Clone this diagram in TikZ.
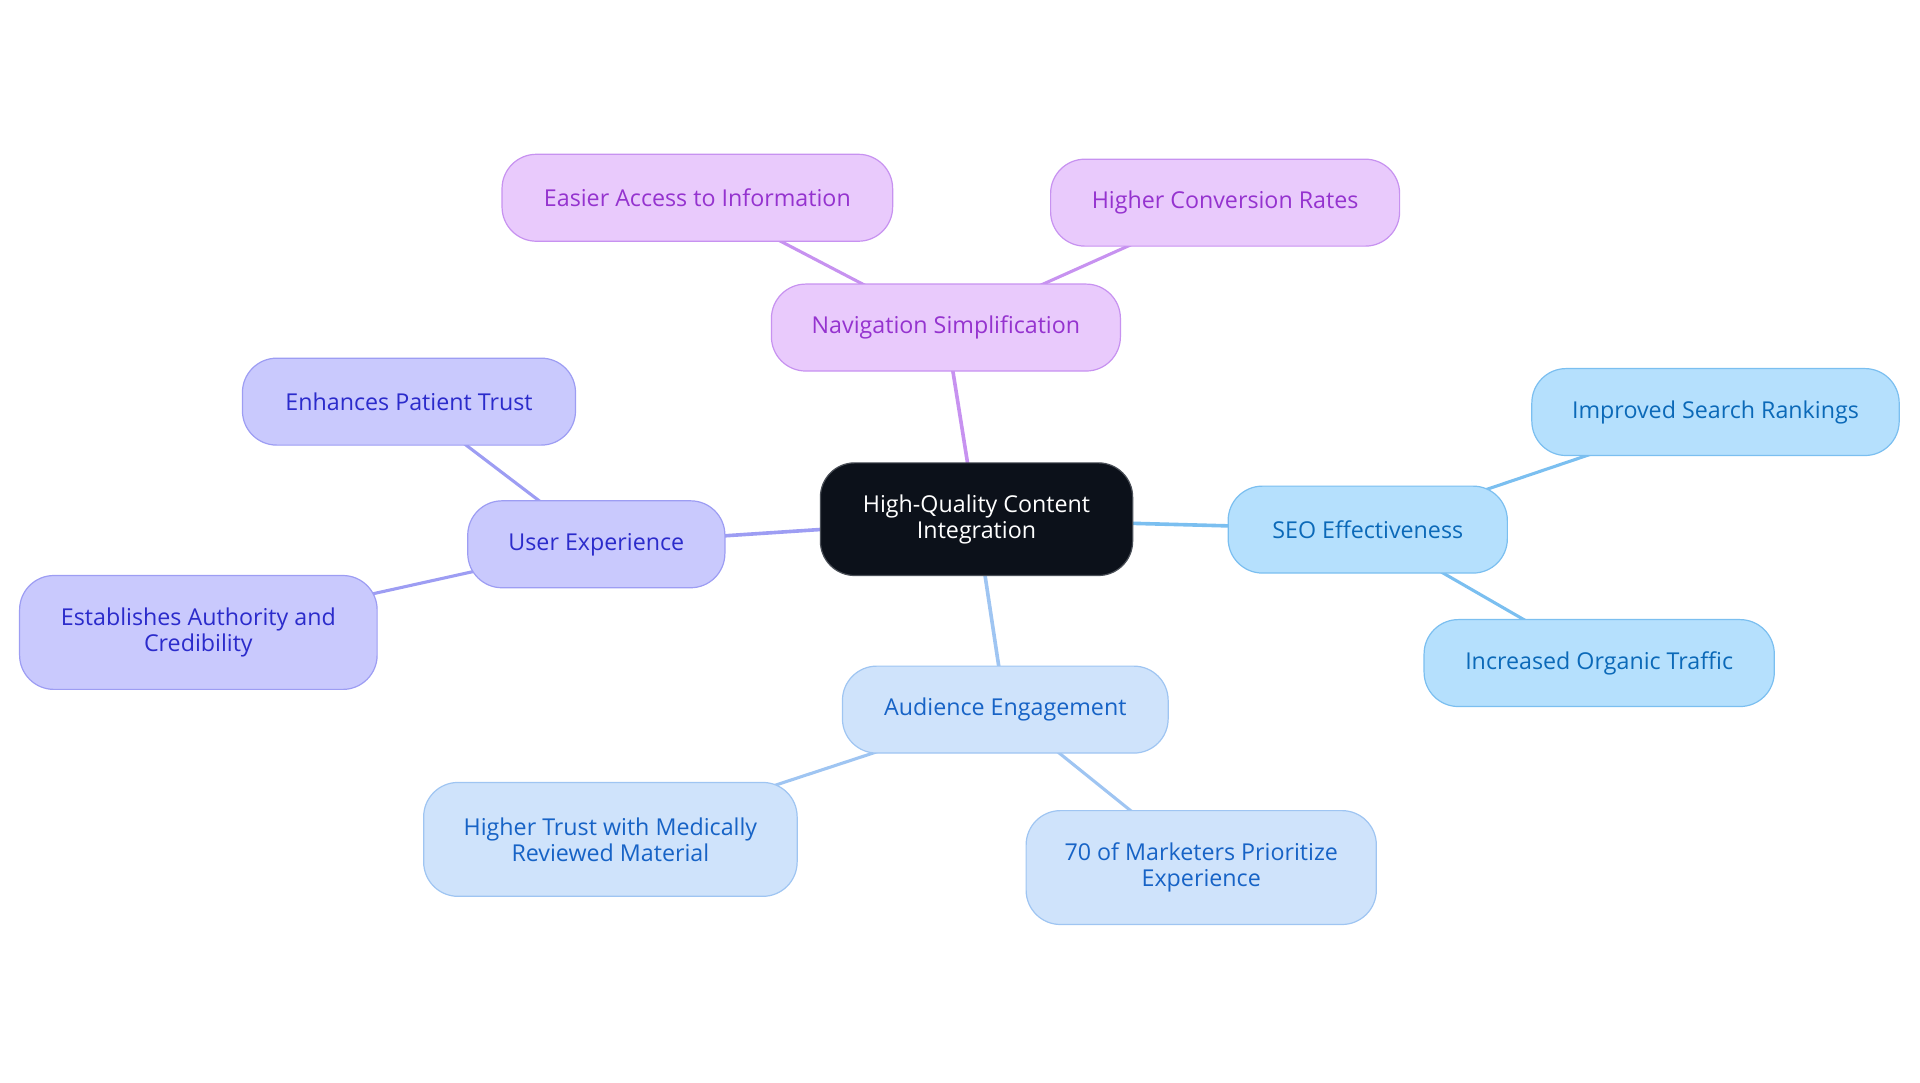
\documentclass[tikz,border=0pt]{standalone}
\usepackage{fontspec}
\setmainfont{Open Sans}
\pgfdeclarelayer{background}
\pgfsetlayers{background,main}
\definecolor{cfill}{HTML}{0C111A}
\definecolor{cborder}{HTML}{4A4F57}
\definecolor{navfill}{HTML}{E9CAFC}
\definecolor{navline}{HTML}{C792F0}
\definecolor{navtext}{HTML}{9533CF}
\definecolor{uxfill}{HTML}{C9C9FD}
\definecolor{uxline}{HTML}{9D9DF3}
\definecolor{uxtext}{HTML}{2B2BCB}
\definecolor{seofill}{HTML}{B5E0FD}
\definecolor{seoline}{HTML}{7BBFF0}
\definecolor{seotext}{HTML}{0B69B8}
\definecolor{audfill}{HTML}{CFE3FB}
\definecolor{audline}{HTML}{9FC5F2}
\definecolor{audtext}{HTML}{1763C6}
\tikzset{
  box/.style={rounded corners=0.7cm, line width=0.7pt, inner sep=0pt, align=center,
    font=\fontsize{13.5}{15.2}\selectfont},
  centerbox/.style={box, fill=cfill, draw=cborder, text=white},
  navbox/.style={box, fill=navfill, draw=navline, text=navtext},
  uxbox/.style={box, fill=uxfill, draw=uxline, text=uxtext},
  seobox/.style={box, fill=seofill, draw=seoline, text=seotext},
  audbox/.style={box, fill=audfill, draw=audline, text=audtext},
  mainedge/.style={line width=2.1pt},
  subedge/.style={line width=1.8pt},
}
\begin{document}
\begin{tikzpicture}[x=0.025cm, y=-0.025cm]
\useasboundingbox (0,0) rectangle (1568,884.4);
\node[centerbox, minimum width=255*0.025cm, minimum height=92*0.025cm] (c) at (797.5,424) {High-Quality Content\\Integration};
\node[navbox, minimum width=285*0.025cm, minimum height=71*0.025cm] (nav) at (772.5,267.5) {Navigation Simplification};
\node[navbox, minimum width=319*0.025cm, minimum height=71*0.025cm] (eas) at (569.5,161.5) {Easier Access to Information};
\node[navbox, minimum width=285*0.025cm, minimum height=71*0.025cm] (hcr) at (1000.5,165.5) {Higher Conversion Rates};
\node[uxbox, minimum width=210*0.025cm, minimum height=71*0.025cm] (ux) at (487,444.5) {User Experience};
\node[uxbox, minimum width=272*0.025cm, minimum height=71*0.025cm] (ept) at (334,328) {Enhances Patient Trust};
\node[uxbox, minimum width=292*0.025cm, minimum height=93*0.025cm] (est) at (162,516.5) {Establishes Authority and\\Credibility};
\node[seobox, minimum width=228*0.025cm, minimum height=71*0.025cm] (seo) at (1117,432.5) {SEO Effectiveness};
\node[seobox, minimum width=300*0.025cm, minimum height=71*0.025cm] (isr) at (1401,336.5) {Improved Search Rankings};
\node[seobox, minimum width=286*0.025cm, minimum height=71*0.025cm] (iot) at (1306,541.5) {Increased Organic Traffic};
\node[audbox, minimum width=266*0.025cm, minimum height=71*0.025cm] (aud) at (821,579.5) {Audience Engagement};
\node[audbox, minimum width=305*0.025cm, minimum height=93*0.025cm] (htm) at (498.5,685.5) {Higher Trust with Medically\\Reviewed Material};
\node[audbox, minimum width=286*0.025cm, minimum height=93*0.025cm] (mkt) at (981,708.5) {70 of Marketers Prioritize\\Experience};
\begin{pgfonlayer}{background}
\draw[mainedge, navline] (c.center) -- (nav.center);
\draw[subedge, navline] (nav.center) -- (eas.center);
\draw[subedge, navline] (nav.center) -- (hcr.center);
\draw[mainedge, uxline] (c.center) -- (ux.center);
\draw[subedge, uxline] (ux.center) -- (ept.center);
\draw[subedge, uxline] (ux.center) -- (est.center);
\draw[mainedge, seoline] (c.center) -- (seo.center);
\draw[subedge, seoline] (seo.center) -- (isr.center);
\draw[subedge, seoline] (seo.center) -- (iot.center);
\draw[mainedge, audline] (c.center) -- (aud.center);
\draw[subedge, audline] (aud.center) -- (htm.center);
\draw[subedge, audline] (aud.center) -- (mkt.center);
\end{pgfonlayer}
\end{tikzpicture}
\end{document}
